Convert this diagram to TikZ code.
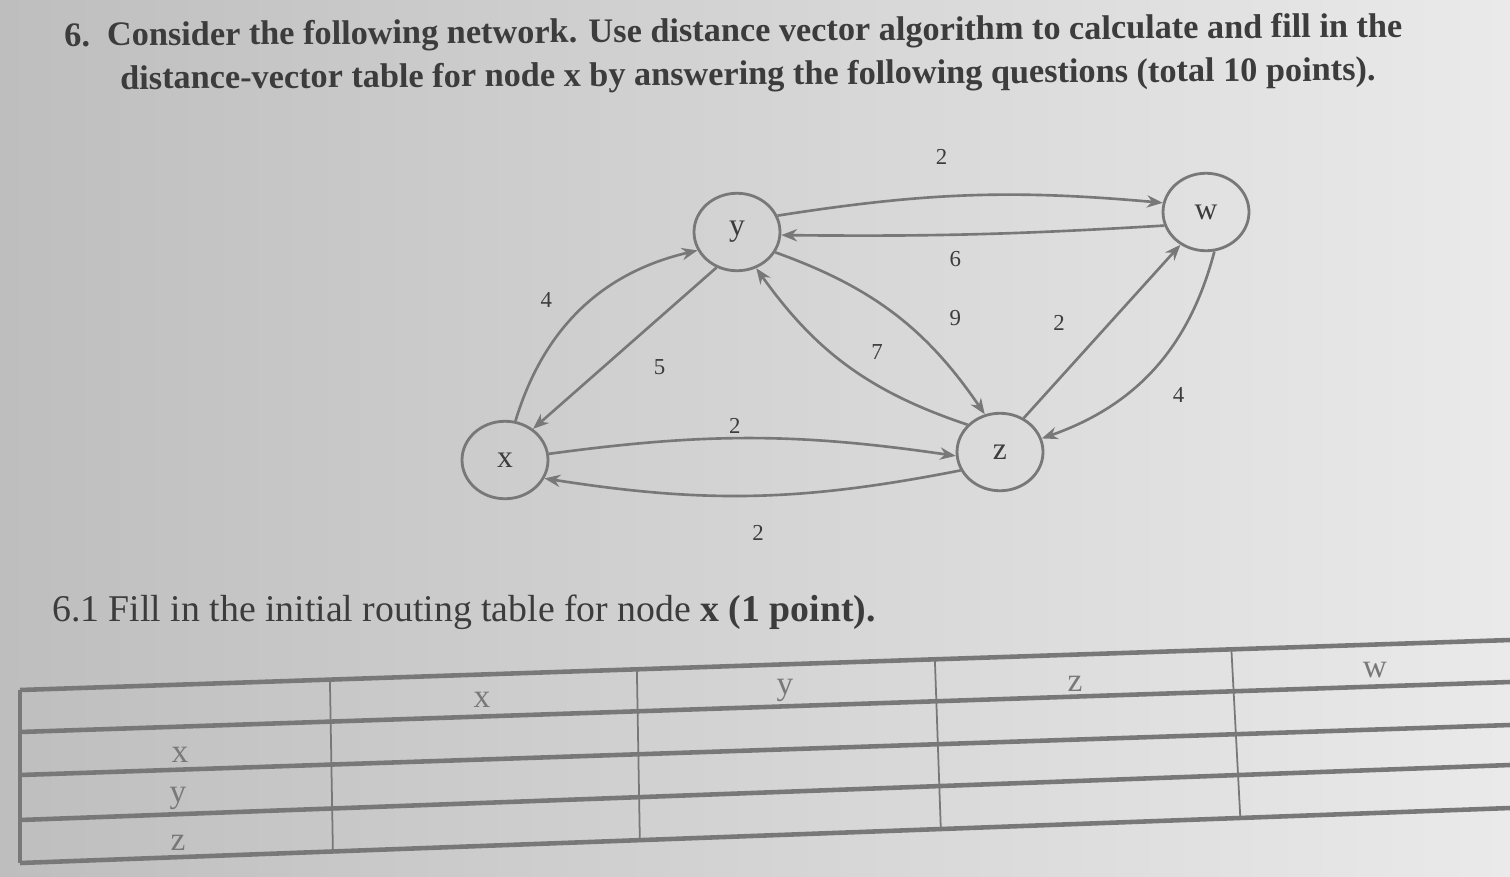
\documentclass[tikz,border=0pt]{standalone}
\usepackage{fontspec}
\setmainfont{Liberation Serif}
\usetikzlibrary{calc,arrows.meta,shapes.geometric}

\definecolor{paperL}{RGB}{190,190,190}
\definecolor{paperR}{RGB}{234,234,234}
\definecolor{inkgray}{RGB}{120,120,120}
\definecolor{inkdark}{RGB}{60,60,60}

\begin{document}
\begin{tikzpicture}[x=0.02cm,y=-0.02cm,
  router/.style={draw=inkgray,line width=1.6pt,ellipse,minimum width=1.72cm,
    minimum height=1.55cm,font=\fontsize{18}{20}\selectfont,text=inkdark},
  link/.style={draw=inkgray,line width=1.5pt,-{Stealth[length=9pt,width=7pt]}},
  wt/.style={font=\fontsize{13}{15}\selectfont,text=inkdark,inner sep=1pt},
  rule/.style={draw=inkgray,line width=2.6pt},
  colrule/.style={draw=inkgray,line width=1pt},
  cell/.style={font=\fontsize{19}{21}\selectfont,text=inkgray},
  question/.style={anchor=west,text=inkdark,inner sep=0pt,rotate=0.4,
    font=\bfseries\fontsize{19.5}{22}\selectfont}]

  \useasboundingbox (0,0) rectangle (1510,876);
  \shade[left color=paperL,right color=paperR] (0,0) rectangle (1510,876);

  \node[question] (q1) at (64,38) {6.\ \ Consider the following network. Use distance vector algorithm to calculate and fill in the};
  \node[question] (q2) at (120,81) {distance-vector table for node x by answering the following questions (total 10 points).};

  \node[router] (x) at (505,460) {x};
  \node[router] (y) at (737,232) {y};
  \node[router] (z) at (1000,452) {z};
  \node[router] (w) at (1206,212) {w};

  \draw[link] (x.75) to[bend left=30] node[wt,pos=0.45,above left=6pt,xshift=-4pt,yshift=-2pt] {4} (y.205);
  \draw[link] (y.240) -- node[wt,pos=0.55,below right=8pt,xshift=12pt,yshift=8pt] {5} (x.48);
  \draw[link] (x.8) to[bend left=8] node[wt,above=1pt,xshift=-10pt] {2} (z.185);
  \draw[link] (z.205) to[bend left=10] node[wt,below=15pt,xshift=3pt] {2} (x.335);
  \draw[link] (y.-28) to[bend left=18] node[wt,pos=0.55,above right=8pt,xshift=16pt,yshift=-12pt] {9} (z.112);
  \draw[link] (z.140) to[bend left=18] node[wt,pos=0.45,above right=6pt] {7} (y.-62);
  \draw[link] (y.22) to[bend left=7] node[wt,above=16pt,xshift=-16pt] {2} (w.168);
  \draw[link] (w.198) to[bend left=2] node[wt,below=10pt,xshift=-10pt,yshift=2pt] {6} (y.-4);
  \draw[link] (z.55) -- node[wt,pos=0.55,above left=8pt,xshift=-16pt,yshift=-14pt] {2} (w.232);
  \draw[link] (w.-78) to[bend left=28] node[wt,pos=0.55,below right=8pt,xshift=6pt,yshift=4pt] {4} (z.18);

  \node[anchor=west,text=inkdark,font=\fontsize{21.5}{24}\selectfont]
    (q3) at (46,612) {6.1 Fill in the initial routing table for node \textbf{x (1 point).}};

  % table rows
  \coordinate (r0l) at (20,690);  \coordinate (r0r) at (1510,640);
  \coordinate (r1l) at (20,732);  \coordinate (r1r) at (1510,682);
  \coordinate (r2l) at (20,775);  \coordinate (r2r) at (1510,725);
  \coordinate (r3l) at (20,820);  \coordinate (r3r) at (1510,765);
  \coordinate (r4l) at (20,863);  \coordinate (r4r) at (1510,808);
  \foreach \r in {0,...,4}
    \draw[rule] (r\r l) -- (r\r r);
  \draw[rule] (r0l) -- (r4l);
  \foreach \t/\b in {0.208/0.210,0.414/0.416,0.614/0.618,0.813/0.819}
    \draw[colrule] ($(r0l)!\t!(r0r)$) -- ($(r4l)!\b!(r4r)$);

  \node[cell] (hx) at (482,700) {x};
  \node[cell] (hy) at (785,690) {y};
  \node[cell] (hz) at (1075,684) {z};
  \node[cell] (hw) at (1375,670) {w};
  \node[cell] (lx) at (180,755) {x};
  \node[cell] (ly) at (178,798) {y};
  \node[cell] (lz) at (178,843) {z};
\end{tikzpicture}
\end{document}
